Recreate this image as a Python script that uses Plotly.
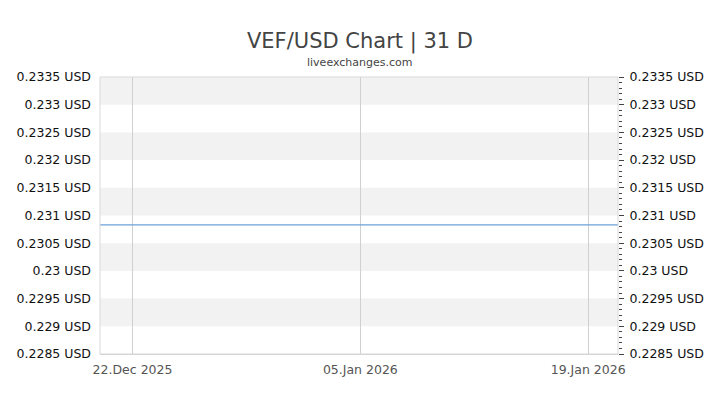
import plotly.graph_objects as go
import pandas as pd

dates = pd.date_range("2025-12-20", "2026-01-21", freq="D")
rates = [
    0.23083, 0.23083, 0.23083, 0.23083, 0.23083, 0.23083, 0.23083, 0.23083,
    0.23083, 0.23083, 0.23083, 0.23083, 0.23083, 0.23083, 0.23083, 0.23083,
    0.23083, 0.23083, 0.23083, 0.23083, 0.23083, 0.23083, 0.23083, 0.23083,
    0.23083, 0.23083, 0.23083, 0.23083, 0.23083, 0.23083, 0.23083, 0.23083,
    0.23083,
]
x_range = ["2025-12-20 00:00", "2026-01-20 20:00"]
y_ticks = [0.2285, 0.229, 0.2295, 0.23, 0.2305, 0.231, 0.2315, 0.232, 0.2325, 0.233, 0.2335]
y_labels = ["0.2285 USD", "0.229 USD", "0.2295 USD", "0.23 USD", "0.2305 USD", "0.231 USD",
            "0.2315 USD", "0.232 USD", "0.2325 USD", "0.233 USD", "0.2335 USD"]
x_ticks = ["2025-12-22", "2026-01-05", "2026-01-19"]
x_labels = ["22.Dec 2025", "05.Jan 2026", "19.Jan 2026"]

FONT = "DejaVu Sans"
TS = 12.5
fig = go.Figure()
fig.add_trace(go.Scatter(x=dates, y=rates[:len(dates)], mode="lines",
                         line=dict(color="#6d9fda", width=1.2), hoverinfo="skip"))
fig.add_trace(go.Scatter(x=dates, y=rates[:len(dates)], yaxis="y2", mode="lines",
                         line=dict(width=0), opacity=0, hoverinfo="skip"))

shapes = []
for i in range(0, len(y_ticks) - 1):
    if i % 2 == 1:
        shapes.append(dict(type="rect", xref="paper", yref="y", x0=0, x1=1,
                           y0=y_ticks[i], y1=y_ticks[i + 1],
                           fillcolor="#f2f2f2", line=dict(width=0), layer="below"))
shapes.append(dict(type="rect", xref="paper", yref="paper", x0=0, x1=1, y0=0, y1=1,
                   line=dict(color="#d9d9d9", width=1), layer="above"))

yr = [y_ticks[0], y_ticks[-1]]
fig.update_layout(
    width=720, height=405,
    margin=dict(l=100, r=102, t=77, b=51),
    paper_bgcolor="white", plot_bgcolor="white",
    showlegend=False,
    font=dict(family=FONT, size=12, color="#000"),
    title=dict(text="VEF/USD Chart | 31 D", x=0.5, xanchor="center", y=0.9, yanchor="middle",
               font=dict(family=FONT, size=21, color="#444")),
    annotations=[dict(text="liveexchanges.com", xref="paper", yref="paper", x=0.5, y=1.053,
                      xanchor="center", yanchor="middle", showarrow=False,
                      font=dict(family=FONT, size=11, color="#444"))],
    shapes=shapes,
    xaxis=dict(range=x_range, tickvals=x_ticks, ticktext=x_labels,
               showgrid=True, gridcolor="#d0d0d0", gridwidth=1, zeroline=False,
               ticks="", ticklabelstandoff=4, tickfont=dict(family=FONT, size=TS, color="#555"),
               showline=True, linecolor="#d0d0d0"),
    yaxis=dict(range=yr, tickvals=y_ticks, ticktext=y_labels, showgrid=False,
               zeroline=False, ticks="", ticklabelstandoff=8,
               tickfont=dict(family=FONT, size=TS, color="#111")),
    yaxis2=dict(range=yr, overlaying="y", side="right", tickvals=y_ticks, ticktext=y_labels,
                showgrid=False, zeroline=False, ticks="outside", ticklen=5, tickcolor="#444",
                ticklabelstandoff=3,
                tickfont=dict(family=FONT, size=TS, color="#111"),
                minor=dict(dtick=0.0001, ticks="outside", ticklen=3, tickcolor="#444", showgrid=False)),
)
fig.write_html("out.html", config={"displayModeBar": False})
with open("out.html", encoding="utf-8") as f:
    html = f.read()
html = html.replace("<head>", "<head><style>html,body{margin:0;padding:0;}</style>", 1)
with open("out.html", "w", encoding="utf-8") as f:
    f.write(html)
